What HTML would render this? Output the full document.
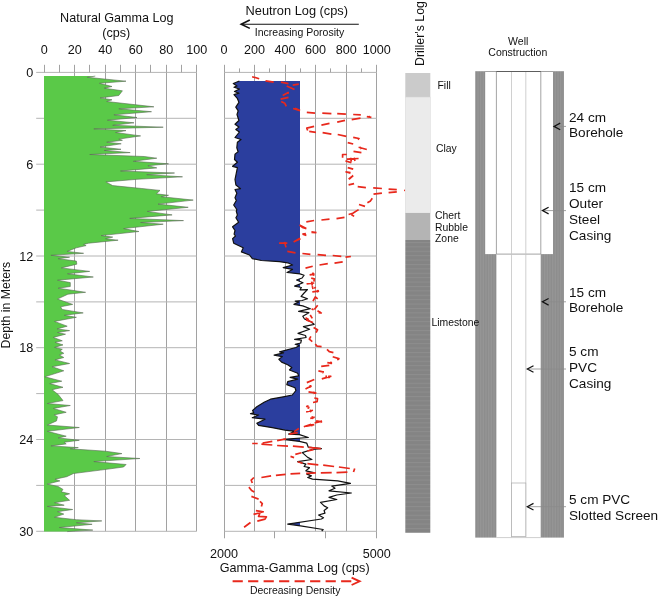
<!DOCTYPE html>
<html><head><meta charset="utf-8"><title>Well logs</title>
<style>
html,body{margin:0;padding:0;background:#fff;}
svg{display:block;}
text{font-family:"Liberation Sans",Arial,sans-serif;fill:#111;}
.t12{font-size:12.6px}
.t10{font-size:10.4px}
.t13{font-size:13.6px}
.g{stroke:#b4b4b4;stroke-width:1;fill:none}
.g .v{stroke:#a2a2a2}
</style></head><body>
<svg width="660" height="598" viewBox="0 0 660 598">
<defs>
<pattern id="lime" width="4" height="4.4" patternUnits="userSpaceOnUse"><rect width="4" height="4.4" fill="#848484"/><rect y="0" width="4" height="1" fill="#8e8e8e"/></pattern>
<pattern id="well" width="1.6" height="4" patternUnits="userSpaceOnUse"><rect width="1.6" height="4" fill="#8c8c8c"/><rect x="0" width="0.6" height="4" fill="#999"/></pattern>
</defs>
<rect width="660" height="598" fill="#fff"/>

<g class="g">
<line class="v" x1="74.5" y1="72.4" x2="74.5" y2="531.3"/>
<line class="v" x1="105.5" y1="72.4" x2="105.5" y2="531.3"/>
<line class="v" x1="135.5" y1="72.4" x2="135.5" y2="531.3"/>
<line class="v" x1="166.5" y1="72.4" x2="166.5" y2="531.3"/>
<line class="v" x1="196.5" y1="72.4" x2="196.5" y2="531.3"/>
<line x1="36.2" y1="72.4" x2="196.7" y2="72.4"/>
<line x1="36.2" y1="118.3" x2="196.7" y2="118.3"/>
<line x1="36.2" y1="164.2" x2="196.7" y2="164.2"/>
<line x1="36.2" y1="210.1" x2="196.7" y2="210.1"/>
<line x1="36.2" y1="256.0" x2="196.7" y2="256.0"/>
<line x1="36.2" y1="301.9" x2="196.7" y2="301.9"/>
<line x1="36.2" y1="347.7" x2="196.7" y2="347.7"/>
<line x1="36.2" y1="393.6" x2="196.7" y2="393.6"/>
<line x1="36.2" y1="439.5" x2="196.7" y2="439.5"/>
<line x1="36.2" y1="485.4" x2="196.7" y2="485.4"/>
<line x1="36.2" y1="531.3" x2="196.7" y2="531.3"/>
<line class="v" x1="44.5" y1="64.8" x2="44.5" y2="72.4"/>
<line class="v" x1="59.5" y1="64.8" x2="59.5" y2="72.4"/>
<line class="v" x1="74.5" y1="64.8" x2="74.5" y2="72.4"/>
<line class="v" x1="89.5" y1="64.8" x2="89.5" y2="72.4"/>
<line class="v" x1="105.5" y1="64.8" x2="105.5" y2="72.4"/>
<line class="v" x1="120.5" y1="64.8" x2="120.5" y2="72.4"/>
<line class="v" x1="135.5" y1="64.8" x2="135.5" y2="72.4"/>
<line class="v" x1="150.5" y1="64.8" x2="150.5" y2="72.4"/>
<line class="v" x1="166.5" y1="64.8" x2="166.5" y2="72.4"/>
<line class="v" x1="181.5" y1="64.8" x2="181.5" y2="72.4"/>
<line class="v" x1="196.5" y1="64.8" x2="196.5" y2="72.4"/>
</g>
<path d="M44.0 76.1 L95.3 76.1 L87.3 77.3 L126.0 81.2 L99.4 83.3 L112.0 86.5 L104.2 88.2 L122.4 90.8 L118.8 95.5 L100.1 97.9 L112.0 99.8 L106.7 101.5 L153.9 106.8 L118.8 108.8 L151.5 111.7 L113.9 114.8 L137.0 117.5 L107.4 120.2 L134.0 122.8 L112.7 125.3 L163.2 127.2 L93.8 128.9 L126.0 130.6 L115.6 132.5 L140.6 135.9 L118.8 139.1 L122.4 140.3 L106.7 142.2 L121.2 143.8 L100.1 147.0 L121.0 149.3 L104.2 150.4 L130.2 152.6 L89.7 154.5 L144.2 156.5 L156.8 158.2 L133.3 161.3 L168.5 163.8 L147.9 165.7 L156.8 167.9 L120.5 171.0 L174.5 173.0 L146.7 174.7 L182.5 176.8 L137.0 179.3 L105.9 181.9 L112.7 185.6 L141.8 188.5 L160.0 190.4 L156.4 193.8 L168.5 195.3 L161.2 196.7 L193.2 200.1 L158.0 204.1 L188.2 207.3 L147.3 211.4 L172.1 214.9 L129.7 218.4 L183.5 220.6 L140.6 222.5 L163.2 224.2 L123.6 228.6 L138.9 231.5 L101.1 235.6 L112.7 237.1 L105.5 238.8 L118.1 240.2 L88.5 243.2 L83.6 244.4 L86.1 245.6 L76.4 247.8 L67.2 251.4 L83.6 253.3 L50.9 255.3 L69.6 257.2 L58.2 258.7 L76.4 261.1 L76.8 264.2 L61.3 267.9 L89.7 271.4 L67.5 273.8 L93.3 277.0 L57.5 280.2 L70.3 282.6 L70.3 286.5 L58.2 288.2 L85.6 292.3 L67.9 294.2 L57.5 299.1 L72.7 304.4 L60.6 306.8 L62.3 309.5 L83.2 312.9 L64.2 315.3 L76.4 317.3 L54.5 321.4 L67.2 326.2 L57.0 328.9 L69.6 330.6 L57.5 332.5 L65.5 334.2 L53.3 337.4 L62.3 340.8 L55.0 342.3 L63.0 344.9 L54.5 347.4 L62.3 349.3 L59.9 350.9 L63.8 353.3 L59.4 355.0 L63.8 357.5 L55.0 359.9 L69.6 363.5 L52.1 366.7 L63.8 370.8 L44.8 376.8 L61.8 381.2 L49.7 383.6 L63.0 387.3 L52.1 389.7 L58.2 394.5 L63.0 400.6 L47.3 403.5 L70.3 405.5 L53.3 408.4 L66.2 412.3 L54.1 414.9 L57.5 416.8 L56.5 420.9 L47.3 425.0 L79.3 427.5 L47.3 431.3 L66.2 436.2 L58.2 437.9 L79.3 440.3 L64.2 442.2 L66.2 443.9 L50.9 445.9 L78.3 447.6 L70.3 448.8 L105.5 451.2 L121.9 453.6 L106.7 456.5 L139.9 458.5 L93.8 461.6 L126.1 464.5 L123.6 467.0 L100.6 470.1 L73.5 473.5 L66.7 476.7 L55.0 479.2 L59.9 480.9 L47.3 484.1 L58.2 486.5 L63.0 489.4 L61.3 491.8 L69.6 493.8 L64.2 495.5 L69.6 500.3 L54.5 502.7 L64.2 505.2 L47.3 506.4 L72.7 509.5 L57.5 511.7 L63.8 514.1 L54.5 517.3 L76.4 519.7 L101.8 520.9 L76.4 522.8 L92.1 524.3 L59.4 527.5 L92.8 530.1 L67.2 531.6 L44.0 531.6Z" fill="#5ac948" stroke="none"/>
<path d="M95.3 76.1 L87.3 77.3 L126.0 81.2 L99.4 83.3 L112.0 86.5 L104.2 88.2 L122.4 90.8 L118.8 95.5 L100.1 97.9 L112.0 99.8 L106.7 101.5 L153.9 106.8 L118.8 108.8 L151.5 111.7 L113.9 114.8 L137.0 117.5 L107.4 120.2 L134.0 122.8 L112.7 125.3 L163.2 127.2 L93.8 128.9 L126.0 130.6 L115.6 132.5 L140.6 135.9 L118.8 139.1 L122.4 140.3 L106.7 142.2 L121.2 143.8 L100.1 147.0 L121.0 149.3 L104.2 150.4 L130.2 152.6 L89.7 154.5 L144.2 156.5 L156.8 158.2 L133.3 161.3 L168.5 163.8 L147.9 165.7 L156.8 167.9 L120.5 171.0 L174.5 173.0 L146.7 174.7 L182.5 176.8 L137.0 179.3 L105.9 181.9 L112.7 185.6 L141.8 188.5 L160.0 190.4 L156.4 193.8 L168.5 195.3 L161.2 196.7 L193.2 200.1 L158.0 204.1 L188.2 207.3 L147.3 211.4 L172.1 214.9 L129.7 218.4 L183.5 220.6 L140.6 222.5 L163.2 224.2 L123.6 228.6 L138.9 231.5 L101.1 235.6 L112.7 237.1 L105.5 238.8 L118.1 240.2 L88.5 243.2 L83.6 244.4 L86.1 245.6 L76.4 247.8 L67.2 251.4 L83.6 253.3 L50.9 255.3 L69.6 257.2 L58.2 258.7 L76.4 261.1 L76.8 264.2 L61.3 267.9 L89.7 271.4 L67.5 273.8 L93.3 277.0 L57.5 280.2 L70.3 282.6 L70.3 286.5 L58.2 288.2 L85.6 292.3 L67.9 294.2 L57.5 299.1 L72.7 304.4 L60.6 306.8 L62.3 309.5 L83.2 312.9 L64.2 315.3 L76.4 317.3 L54.5 321.4 L67.2 326.2 L57.0 328.9 L69.6 330.6 L57.5 332.5 L65.5 334.2 L53.3 337.4 L62.3 340.8 L55.0 342.3 L63.0 344.9 L54.5 347.4 L62.3 349.3 L59.9 350.9 L63.8 353.3 L59.4 355.0 L63.8 357.5 L55.0 359.9 L69.6 363.5 L52.1 366.7 L63.8 370.8 L44.8 376.8 L61.8 381.2 L49.7 383.6 L63.0 387.3 L52.1 389.7 L58.2 394.5 L63.0 400.6 L47.3 403.5 L70.3 405.5 L53.3 408.4 L66.2 412.3 L54.1 414.9 L57.5 416.8 L56.5 420.9 L47.3 425.0 L79.3 427.5 L47.3 431.3 L66.2 436.2 L58.2 437.9 L79.3 440.3 L64.2 442.2 L66.2 443.9 L50.9 445.9 L78.3 447.6 L70.3 448.8 L105.5 451.2 L121.9 453.6 L106.7 456.5 L139.9 458.5 L93.8 461.6 L126.1 464.5 L123.6 467.0 L100.6 470.1 L73.5 473.5 L66.7 476.7 L55.0 479.2 L59.9 480.9 L47.3 484.1 L58.2 486.5 L63.0 489.4 L61.3 491.8 L69.6 493.8 L64.2 495.5 L69.6 500.3 L54.5 502.7 L64.2 505.2 L47.3 506.4 L72.7 509.5 L57.5 511.7 L63.8 514.1 L54.5 517.3 L76.4 519.7 L101.8 520.9 L76.4 522.8 L92.1 524.3 L59.4 527.5 L92.8 530.1 L67.2 531.6" fill="none" stroke="#5a6a55" stroke-width="0.6"/>
<text class="t12" x="44.2" y="54" text-anchor="middle">0</text>
<text class="t12" x="74.7" y="54" text-anchor="middle">20</text>
<text class="t12" x="105.2" y="54" text-anchor="middle">40</text>
<text class="t12" x="135.7" y="54" text-anchor="middle">60</text>
<text class="t12" x="166.2" y="54" text-anchor="middle">80</text>
<text class="t12" x="196.7" y="54" text-anchor="middle">100</text>
<text class="t12" x="33.3" y="77.0" text-anchor="end">0</text>
<text class="t12" x="33.3" y="168.8" text-anchor="end">6</text>
<text class="t12" x="33.3" y="260.6" text-anchor="end">12</text>
<text class="t12" x="33.3" y="352.3" text-anchor="end">18</text>
<text class="t12" x="33.3" y="444.1" text-anchor="end">24</text>
<text class="t12" x="33.3" y="535.9" text-anchor="end">30</text>
<text class="t12" x="116.8" y="22.2" text-anchor="middle">Natural Gamma Log</text>
<text class="t12" x="116.2" y="37.1" text-anchor="middle">(cps)</text>
<text class="t12" transform="translate(10.4 348.4) rotate(-90)" style="font-size:12.7px" textLength="86.6" lengthAdjust="spacingAndGlyphs">Depth in Meters</text>
<g class="g">
<line class="v" x1="224.5" y1="72.4" x2="224.5" y2="531.3"/>
<line class="v" x1="254.5" y1="72.4" x2="254.5" y2="531.3"/>
<line class="v" x1="285.5" y1="72.4" x2="285.5" y2="531.3"/>
<line class="v" x1="315.5" y1="72.4" x2="315.5" y2="531.3"/>
<line class="v" x1="346.5" y1="72.4" x2="346.5" y2="531.3"/>
<line class="v" x1="376.5" y1="72.4" x2="376.5" y2="531.3"/>
<line x1="224.0" y1="72.4" x2="376.7" y2="72.4"/>
<line x1="224.0" y1="118.3" x2="376.7" y2="118.3"/>
<line x1="224.0" y1="164.2" x2="376.7" y2="164.2"/>
<line x1="224.0" y1="210.1" x2="376.7" y2="210.1"/>
<line x1="224.0" y1="256.0" x2="376.7" y2="256.0"/>
<line x1="224.0" y1="301.9" x2="376.7" y2="301.9"/>
<line x1="224.0" y1="347.7" x2="376.7" y2="347.7"/>
<line x1="224.0" y1="393.6" x2="376.7" y2="393.6"/>
<line x1="224.0" y1="439.5" x2="376.7" y2="439.5"/>
<line x1="224.0" y1="485.4" x2="376.7" y2="485.4"/>
<line x1="224.0" y1="531.3" x2="376.7" y2="531.3"/>
<line class="v" x1="224.5" y1="64.8" x2="224.5" y2="72.4"/>
<line class="v" x1="239.5" y1="68.4" x2="239.5" y2="72.4"/>
<line class="v" x1="254.5" y1="64.8" x2="254.5" y2="72.4"/>
<line class="v" x1="269.5" y1="68.4" x2="269.5" y2="72.4"/>
<line class="v" x1="285.5" y1="64.8" x2="285.5" y2="72.4"/>
<line class="v" x1="300.5" y1="68.4" x2="300.5" y2="72.4"/>
<line class="v" x1="315.5" y1="64.8" x2="315.5" y2="72.4"/>
<line class="v" x1="330.5" y1="68.4" x2="330.5" y2="72.4"/>
<line class="v" x1="346.5" y1="64.8" x2="346.5" y2="72.4"/>
<line class="v" x1="361.5" y1="68.4" x2="361.5" y2="72.4"/>
<line class="v" x1="376.5" y1="64.8" x2="376.5" y2="72.4"/>
<line class="v" x1="224.5" y1="531.3" x2="224.5" y2="538.3"/>
<line class="v" x1="274.5" y1="531.3" x2="274.5" y2="538.3"/>
<line class="v" x1="325.5" y1="531.3" x2="325.5" y2="538.3"/>
<line class="v" x1="376.5" y1="531.3" x2="376.5" y2="538.3"/>
</g>
<clipPath id="cl"><rect x="224.0" y="0" width="76.0" height="598"/></clipPath>
<path d="M300.4 81.0 L239.4 81.0 L233.3 83.5 L237.0 85.9 L234.0 87.3 L239.4 89.0 L234.5 91.5 L238.9 93.2 L234.0 94.6 L237.5 98.7 L238.9 102.4 L235.8 107.2 L238.2 110.8 L237.0 114.5 L238.9 120.5 L235.0 124.2 L238.9 127.1 L235.8 129.5 L239.4 132.0 L235.0 137.5 L241.0 139.5 L237.4 142.3 L236.8 147.7 L238.1 151.7 L235.0 154.1 L234.5 159.5 L237.4 162.3 L232.6 166.3 L237.4 167.7 L236.3 173.2 L235.0 179.5 L235.9 185.0 L240.5 188.6 L235.0 189.5 L236.8 193.2 L235.0 197.7 L236.3 200.5 L233.7 205.0 L236.8 209.5 L236.3 211.4 L237.4 215.0 L235.9 217.7 L238.6 222.3 L232.6 226.8 L235.0 230.5 L234.1 234.1 L235.5 236.0 L232.6 238.6 L233.7 243.2 L243.2 247.7 L241.4 251.9 L249.5 255.0 L252.3 258.6 L261.4 260.5 L279.5 261.7 L287.7 262.8 L292.6 265.0 L283.2 267.6 L292.5 269.4 L287.0 272.5 L300.0 273.9 L304.1 275.2 L302.1 278.0 L296.6 280.0 L303.0 282.7 L294.6 286.1 L301.4 287.5 L300.0 289.8 L307.5 289.6 L304.1 293.0 L301.1 296.4 L307.5 298.8 L302.1 300.5 L295.2 301.2 L298.6 302.1 L293.9 304.3 L302.8 305.9 L310.3 308.7 L298.6 311.4 L308.9 312.7 L302.8 316.2 L304.5 319.0 L310.9 321.7 L314.1 324.3 L303.4 326.6 L309.6 329.3 L298.0 333.4 L305.5 335.5 L306.1 337.5 L294.6 339.3 L301.4 340.2 L300.7 343.0 L295.2 344.3 L299.3 345.7 L295.9 347.5 L279.6 351.8 L283.6 352.9 L274.1 355.2 L282.3 356.6 L278.9 359.3 L281.6 362.1 L287.7 364.8 L291.8 367.5 L289.5 370.0 L297.7 373.2 L298.6 375.9 L290.1 377.4 L297.7 379.2 L287.7 381.7 L286.8 384.6 L295.0 387.7 L295.9 390.5 L292.3 395.0 L283.2 396.8 L270.5 399.2 L264.1 402.3 L256.8 406.8 L252.6 410.5 L253.7 412.6 L250.5 413.7 L258.6 415.0 L252.3 417.7 L265.0 419.2 L256.8 423.2 L258.6 425.4 L272.3 427.7 L285.0 430.1 L295.0 431.4 L288.6 434.1 L299.5 434.6 L308.3 437.5 L283.2 439.3 L299.5 441.4 L306.8 443.2 L308.3 447.2 L321.4 448.6 L311.9 449.5 L302.3 452.6 L307.7 457.4 L311.9 459.5 L297.7 461.7 L305.9 464.1 L304.1 466.5 L309.5 467.7 L305.9 470.8 L313.7 472.6 L306.8 474.1 L311.4 475.9 L307.7 477.5 L312.5 479.1 L337.7 480.9 L350.5 483.3 L331.8 486.1 L335.0 488.3 L329.0 490.8 L351.4 493.0 L336.8 495.0 L329.0 497.4 L336.8 499.5 L320.5 502.3 L324.1 505.9 L327.7 507.7 L324.1 510.5 L325.0 513.2 L318.6 515.0 L323.5 517.7 L321.4 519.0 L287.7 524.1 L300.5 525.9 L323.2 529.5 L321.7 531.0 L300.4 531.0Z" fill="#2b3e9e" stroke="none" clip-path="url(#cl)"/>
<path d="M239.4 81.0 L233.3 83.5 L237.0 85.9 L234.0 87.3 L239.4 89.0 L234.5 91.5 L238.9 93.2 L234.0 94.6 L237.5 98.7 L238.9 102.4 L235.8 107.2 L238.2 110.8 L237.0 114.5 L238.9 120.5 L235.0 124.2 L238.9 127.1 L235.8 129.5 L239.4 132.0 L235.0 137.5 L241.0 139.5 L237.4 142.3 L236.8 147.7 L238.1 151.7 L235.0 154.1 L234.5 159.5 L237.4 162.3 L232.6 166.3 L237.4 167.7 L236.3 173.2 L235.0 179.5 L235.9 185.0 L240.5 188.6 L235.0 189.5 L236.8 193.2 L235.0 197.7 L236.3 200.5 L233.7 205.0 L236.8 209.5 L236.3 211.4 L237.4 215.0 L235.9 217.7 L238.6 222.3 L232.6 226.8 L235.0 230.5 L234.1 234.1 L235.5 236.0 L232.6 238.6 L233.7 243.2 L243.2 247.7 L241.4 251.9 L249.5 255.0 L252.3 258.6 L261.4 260.5 L279.5 261.7 L287.7 262.8 L292.6 265.0 L283.2 267.6 L292.5 269.4 L287.0 272.5 L300.0 273.9 L304.1 275.2 L302.1 278.0 L296.6 280.0 L303.0 282.7 L294.6 286.1 L301.4 287.5 L300.0 289.8 L307.5 289.6 L304.1 293.0 L301.1 296.4 L307.5 298.8 L302.1 300.5 L295.2 301.2 L298.6 302.1 L293.9 304.3 L302.8 305.9 L310.3 308.7 L298.6 311.4 L308.9 312.7 L302.8 316.2 L304.5 319.0 L310.9 321.7 L314.1 324.3 L303.4 326.6 L309.6 329.3 L298.0 333.4 L305.5 335.5 L306.1 337.5 L294.6 339.3 L301.4 340.2 L300.7 343.0 L295.2 344.3 L299.3 345.7 L295.9 347.5 L279.6 351.8 L283.6 352.9 L274.1 355.2 L282.3 356.6 L278.9 359.3 L281.6 362.1 L287.7 364.8 L291.8 367.5 L289.5 370.0 L297.7 373.2 L298.6 375.9 L290.1 377.4 L297.7 379.2 L287.7 381.7 L286.8 384.6 L295.0 387.7 L295.9 390.5 L292.3 395.0 L283.2 396.8 L270.5 399.2 L264.1 402.3 L256.8 406.8 L252.6 410.5 L253.7 412.6 L250.5 413.7 L258.6 415.0 L252.3 417.7 L265.0 419.2 L256.8 423.2 L258.6 425.4 L272.3 427.7 L285.0 430.1 L295.0 431.4 L288.6 434.1 L299.5 434.6 L308.3 437.5 L283.2 439.3 L299.5 441.4 L306.8 443.2 L308.3 447.2 L321.4 448.6 L311.9 449.5 L302.3 452.6 L307.7 457.4 L311.9 459.5 L297.7 461.7 L305.9 464.1 L304.1 466.5 L309.5 467.7 L305.9 470.8 L313.7 472.6 L306.8 474.1 L311.4 475.9 L307.7 477.5 L312.5 479.1 L337.7 480.9 L350.5 483.3 L331.8 486.1 L335.0 488.3 L329.0 490.8 L351.4 493.0 L336.8 495.0 L329.0 497.4 L336.8 499.5 L320.5 502.3 L324.1 505.9 L327.7 507.7 L324.1 510.5 L325.0 513.2 L318.6 515.0 L323.5 517.7 L321.4 519.0 L287.7 524.1 L300.5 525.9 L323.2 529.5 L321.7 531.0" fill="none" stroke="#111" stroke-width="1.2" stroke-linejoin="round"/>
<path d="M252.1 76.7 L259.2 78.7M265.5 80.9 L273.7 82.1M281.0 82.1 L288.5 83.6M292.7 85.2 L298.8 84.2M286.7 86.0 L294.5 89.6M282.7 95.5 L288.2 92.5 L287.8 94.0M280.6 99.1 L288.5 97.3M281.2 101.5 L284.8 103.3 L286.3 106.4M293.1 108.5 L300.0 110.6M295.0 108.2 L300.1 110.5M306.8 112.4 L315.0 113.1M322.3 113.1 L331.4 113.6M337.2 113.6 L345.9 114.2M353.2 114.5 L360.8 114.9M366.8 116.7 L371.4 117.3M368.6 116.0 L369.5 117.8M360.5 118.2 L351.7 119.6M345.0 120.4 L337.2 122.2M329.5 123.3 L321.4 125.1M314.1 126.4 L306.8 128.2 L307.7 130.5M309.2 131.3 L315.9 132.4M322.6 132.7 L331.4 134.2M337.7 134.5 L346.3 136.4M353.2 137.3 L359.0 138.5 L357.9 139.6M347.7 142.7 L353.2 144.0M358.6 147.3 L366.8 149.5M360.1 146.9 L361.2 149.1M353.5 151.3 L361.4 152.7M346.8 154.5 L342.6 154.5 L342.6 157.8M346.8 159.1 L358.6 158.5M350.5 157.8 L351.4 161.8M354.1 157.8 L355.0 160.9M345.5 160.9 L351.4 162.7M347.7 167.6 L353.2 169.1M345.5 171.8 L350.5 173.1M353.2 175.5 L348.6 179.1M345.5 171.8 L350.5 172.7M353.2 175.5 L349.2 179.1M348.6 184.9 L354.1 183.6M357.7 186.7 L365.9 187.6M373.2 187.8 L381.9 188.5M388.6 189.1 L396.8 189.6M404.1 190.2 L405.2 190.5M396.8 191.8 L388.6 192.7M381.9 193.1 L373.5 194.2M372.3 198.2 L370.5 200.9 L367.4 202.7M359.0 204.5 L365.0 206.4M358.6 209.6 L352.8 213.3 L348.6 214.5M351.4 214.5 L354.1 216.4M344.5 217.3 L336.5 218.7M329.5 219.1 L321.4 220.0M314.1 220.5 L306.3 221.8M299.5 225.1 L306.3 228.5M311.4 231.8 L316.5 232.7M302.3 234.0 L305.9 233.6M295.0 241.3 L300.5 238.7M300.0 225.5 L302.4 227.4 L306.4 228.6M311.5 232.3 L316.4 232.6M302.7 234.1 L306.4 235.4M300.0 238.3 L293.6 241.9M279.1 243.2 L287.3 243.2M284.5 241.9 L286.0 247.4M287.3 251.4 L295.5 252.8M302.4 253.5 L310.4 254.3M317.6 254.6 L326.0 255.4M332.7 255.5 L341.3 256.3M345.5 257.2 L350.9 256.5M342.7 261.9 L334.5 263.2M327.8 263.7 L319.5 265.0M312.7 266.3 L305.5 268.1M312.2 272.8 L314.5 274.6M309.6 274.8 L314.3 274.1M313.0 272.7 L313.9 275.7M311.2 278.2 L314.3 278.9 L313.9 281.6M306.6 283.9 L314.3 283.0M311.6 281.6 L312.3 285.7M312.3 286.1 L313.0 289.1M315.7 287.1 L314.3 288.4M312.3 291.8 L319.1 291.1M317.5 289.8 L318.0 292.5M313.0 301.1 L315.3 297.0 L317.7 298.9M317.7 305.2 L314.3 309.6M311.6 308.9 L313.6 309.8M317.5 310.7 L321.8 313.4M319.8 310.9 L319.1 313.4M310.2 315.0 L312.3 318.4M305.5 317.7 L308.9 319.8M308.2 320.5 L312.3 322.5M306.1 320.0 L313.0 322.5M313.6 327.5 L317.5 329.8 L316.1 332.6M310.9 336.4 L309.3 339.1 L312.3 341.6M315.3 343.9 L317.1 346.2 L321.6 346.6M327.0 349.3 L329.3 351.7 L333.4 352.7M332.7 356.8 L339.6 358.9M337.5 357.9 L338.2 360.2M327.3 362.6 L332.1 363.4M330.7 361.6 L331.4 364.3M321.2 366.4 L329.3 365.3M318.4 370.8 L323.9 372.1M322.5 371.2 L323.2 373.2M321.8 378.9 L331.4 376.1M325.9 375.5 L326.6 377.5M328.7 375.5 L329.3 378.2M306.8 382.6 L314.3 379.5M305.5 389.1 L311.6 385.7M309.6 385.3 L310.6 387.7M308.5 391.8 L316.4 393.2M313.6 391.8 L314.3 393.9M314.3 398.0 L317.5 398.6 L317.1 401.7 L313.0 402.5M306.1 406.2 L309.6 407.5M307.5 405.2 L308.5 408.9M306.1 412.0 L313.0 410.2M310.2 409.6 L310.9 412.3M310.2 418.4 L314.7 417.1M312.0 416.4 L312.6 419.1M316.1 420.8 L322.1 421.8M320.7 420.5 L321.6 422.9M306.6 426.2 L314.3 424.6M311.6 423.9 L312.3 426.2M322.0 421.2 L314.7 422.9M311.1 424.4 L303.8 426.8M298.9 428.5 L294.1 431.6M289.2 434.1 L297.7 432.6M286.1 438.9 L277.1 440.6M272.3 441.3 L262.6 443.0M257.7 443.5 L252.2 443.5M261.4 444.2 L272.3 445.0M277.1 445.5 L288.0 446.2M292.9 446.2 L303.8 447.2M308.6 447.4 L320.8 448.6M313.5 449.6 L307.4 451.0M301.4 452.7 L295.3 454.4M290.5 456.4 L294.1 457.6M297.7 461.7 L302.6 463.2M307.4 463.6 L318.3 464.8M323.2 465.1 L334.1 466.5M338.9 467.0 L349.8 468.5M354.7 468.5 L353.5 472.1M347.4 472.1 L336.5 472.6M331.7 472.6 L320.8 472.8M315.9 472.8 L306.2 473.3M300.2 473.3 L290.5 473.8M285.6 474.3 L275.9 475.3M271.1 475.8 L261.4 477.5M253.9 477.5 L251.2 480.2 L252.3 483.0M248.9 487.1 L251.6 490.5 L254.3 492.1M251.4 496.4 L258.6 499.1M260.0 501.4 L262.3 503.6 L261.4 506.4M255.9 510.7 L263.2 511.8 L253.5 514.4M259.8 513.2 L258.6 516.4 L266.4 516.9 L265.0 519.1 L257.3 521.1M244.1 527.3 L250.5 522.5" fill="none" stroke="#e8281c" stroke-width="1.7" stroke-linejoin="round"/>
<text class="t12" x="224.0" y="54" text-anchor="middle">0</text>
<text class="t12" x="254.5" y="54" text-anchor="middle">200</text>
<text class="t12" x="285.1" y="54" text-anchor="middle">400</text>
<text class="t12" x="315.6" y="54" text-anchor="middle">600</text>
<text class="t12" x="346.2" y="54" text-anchor="middle">800</text>
<text class="t12" x="376.7" y="54" text-anchor="middle">1000</text>
<text class="t12" x="296.8" y="15.2" text-anchor="middle" style="font-size:12.8px">Neutron Log (cps)</text>
<text class="t10" x="299.5" y="35.8" text-anchor="middle" style="font-size:10.5px">Increasing Porosity</text>
<path d="M358.8 24.2H242" fill="none" stroke="#111" stroke-width="1.1"/>
<path d="M249.8 20L241.2 24.2L249.8 28.4" fill="none" stroke="#111" stroke-width="1.6"/>
<text class="t12" x="224.0" y="557.6" text-anchor="middle">2000</text>
<text class="t12" x="376.7" y="557.6" text-anchor="middle">5000</text>
<text class="t12" x="294.7" y="571.6" text-anchor="middle" style="font-size:12.6px">Gamma-Gamma Log (cps)</text>
<path d="M232.6 581.3H356" fill="none" stroke="#e8281c" stroke-width="1.9" stroke-dasharray="10.2 5.3"/>
<path d="M351.6 577.6L359.6 581.3L351.6 585" fill="none" stroke="#e8281c" stroke-width="1.9"/>
<text class="t10" x="295.2" y="593.8" text-anchor="middle" style="font-size:10.45px">Decreasing Density</text>
<rect x="405.3" y="73" width="25.0" height="24.2" fill="#cbcbcb"/>
<rect x="405.3" y="97.2" width="25.0" height="115.8" fill="#ebebeb" stroke="#dcdcdc" stroke-width="0.6"/>
<rect x="405.3" y="213" width="25.0" height="27" fill="#b4b4b4"/>
<rect x="405.3" y="240" width="25.0" height="292.8" fill="url(#lime)"/>
<text class="t12" transform="translate(423.8 66) rotate(-90)" style="font-size:13.6px" textLength="65" lengthAdjust="spacingAndGlyphs">Driller's Log</text>
<text class="t10" x="437.5" y="88.5">Fill</text>
<text class="t10" x="436" y="151.8">Clay</text>
<text class="t10" x="435" y="218.8">Chert</text>
<text class="t10" x="435" y="230.5">Rubble</text>
<text class="t10" x="435" y="242.2">Zone</text>
<rect x="475.2" y="71.2" width="88.8" height="466.4" fill="url(#well)"/>
<rect x="485.2" y="71.7" width="67.8" height="182.4" fill="#fff"/>
<rect x="496.4" y="71.7" width="44.3" height="465.9" fill="#fff"/>
<path d="M496.4 71.2V254.1H540.8V71.2" fill="none" stroke="#8d8d8d" stroke-width="0.8"/>
<path d="M511.5 71.2V537.6M525.8 71.2V537.6" fill="none" stroke="#c4c4c4" stroke-width="0.8"/>
<path d="M485.2 71.5H553" stroke="#999" stroke-width="0.8" fill="none"/>
<path d="M496.4 71.5H540.8" stroke="#555" stroke-width="0.9" fill="none"/>
<rect x="511.5" y="483" width="14.3" height="53.4" fill="#fff" stroke="#aaa" stroke-width="0.7"/>
<path d="M496.4 537.6H540.8" stroke="#ccc" stroke-width="0.8" fill="none"/>
<text class="t10" x="431.4" y="325.6">Limestone</text>
<text class="t10" x="518.2" y="44.5" text-anchor="middle" style="font-size:10.5px">Well</text>
<text class="t10" x="517.8" y="56.3" text-anchor="middle" style="font-size:10.5px">Construction</text>
<text class="t13" x="569.0" y="121.5">24 cm</text>
<text class="t13" x="569.0" y="136.8">Borehole</text>
<path d="M566.0 126.4H555.0" fill="none" stroke="#8a8a8a" stroke-width="0.8"/>
<path d="M560.2 123.1L554.0 126.4L560.2 129.7" fill="none" stroke="#111" stroke-width="1.2"/>
<text class="t13" x="569.0" y="192.4">15 cm</text>
<text class="t13" x="569.0" y="208.2">Outer</text>
<text class="t13" x="569.0" y="224.0">Steel</text>
<text class="t13" x="569.0" y="239.6">Casing</text>
<path d="M566.0 210.6H543.4" fill="none" stroke="#8a8a8a" stroke-width="0.8"/>
<path d="M548.6 207.3L542.4 210.6L548.6 213.9" fill="none" stroke="#111" stroke-width="1.2"/>
<text class="t13" x="569.0" y="296.7">15 cm</text>
<text class="t13" x="569.0" y="312.4">Borehole</text>
<path d="M566.0 301.8H543.4" fill="none" stroke="#8a8a8a" stroke-width="0.8"/>
<path d="M548.6 298.5L542.4 301.8L548.6 305.1" fill="none" stroke="#111" stroke-width="1.2"/>
<text class="t13" x="569.0" y="356.4">5 cm</text>
<text class="t13" x="569.0" y="372.3">PVC</text>
<text class="t13" x="569.0" y="388.2">Casing</text>
<path d="M566.0 369.0H528.3" fill="none" stroke="#8a8a8a" stroke-width="0.8"/>
<path d="M533.5 365.7L527.3 369.0L533.5 372.3" fill="none" stroke="#111" stroke-width="1.2"/>
<text class="t13" x="569.0" y="504.2">5 cm PVC</text>
<text class="t13" x="569.0" y="520.0">Slotted Screen</text>
<path d="M566.0 506.7H528.3" fill="none" stroke="#8a8a8a" stroke-width="0.8"/>
<path d="M533.5 503.4L527.3 506.7L533.5 510.0" fill="none" stroke="#111" stroke-width="1.2"/>
</svg></body></html>
